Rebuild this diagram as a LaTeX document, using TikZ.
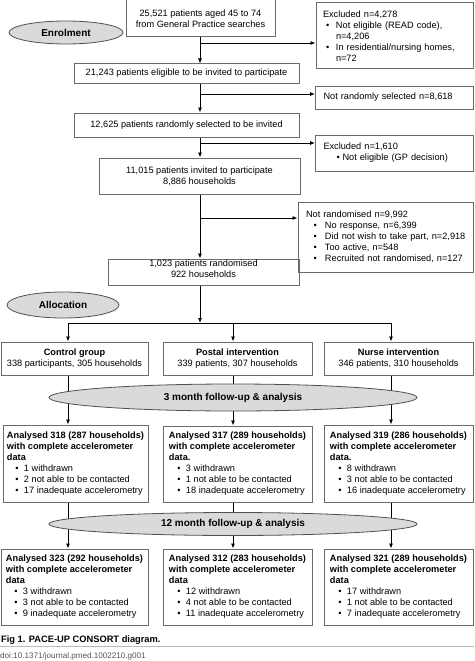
\documentclass[tikz,border=0pt]{standalone}
\usepackage{fontspec}
\setmainfont{Liberation Sans}
\usetikzlibrary{arrows.meta,shapes.geometric}
\definecolor{boxline}{HTML}{6B6B6B}
\definecolor{ellfill}{HTML}{DADADA}
\definecolor{ellline}{HTML}{505050}
\definecolor{capline}{HTML}{BBBBBB}
\definecolor{doigray}{HTML}{555555}
\newcommand{\bul}[2]{\hspace*{#1}\makebox[#2][l]{\textbullet}}
\begin{document}
\begin{tikzpicture}[x=1pt,y=-1pt,
  every node/.style={font=\fontsize{9.2}{11}\selectfont, text=black},
  box/.style={draw=boxline, line width=1pt, rectangle, inner sep=0pt, align=center},
  lbox/.style={box, align=left},
  oval/.style={ellipse, draw=ellline, fill=ellfill, line width=0.8pt, inner sep=0pt, font=\fontsize{10}{12}\selectfont\bfseries},
  arr/.style={draw=black, line width=0.8pt, -{Latex[length=5pt,width=4pt]}},
  ln/.style={draw=black, line width=0.8pt}
]
\useasboundingbox (0,0) rectangle (474,661);
\fill[white] (0,0) rectangle (474,661);
\clip (0,0) rectangle (474,661);

% enrolment column
\node[box, minimum width=149, minimum height=42] (T) at (200.5,16) {\rule{0pt}{13pt}25,521 patients aged 45 to 74\\from General Practice searches};
\node[oval, minimum width=114, minimum height=23] (E1) at (66,32.5) {Enrolment};
\node[lbox, text width=143, inner xsep=7, minimum height=66] (X1) at (394.5,36) {Excluded n=4,278\\\mbox{\bul{3pt}{10pt}Not eligible (READ code),}\\\hspace*{13pt}n=4,206\\\mbox{\bul{3pt}{10pt}In residential/nursing homes,}\\\hspace*{13pt}n=72};
\node[box, minimum width=225, minimum height=19] (B2) at (186.5,73.5) {21,243 patients eligible to be invited to participate};
\node[lbox, text width=142, inner xsep=8, minimum height=23] (X2) at (394.5,97.5) {\mbox{Not randomly selected n=8,618}};
\node[box, minimum width=225, minimum height=24] (B3) at (186.5,125) {12,625 patients randomly selected to be invited};
\node[lbox, text width=142, inner xsep=8, minimum height=36] (X3) at (394.5,153) {Excluded n=1,610\\\mbox{\bul{13pt}{6pt}Not eligible (GP decision)}};
\node[box, minimum width=201, minimum height=36] (B4) at (199.5,176) {11,015 patients invited to participate\\8,886 households};
\node[lbox, text width=159, inner xsep=8, minimum height=70] (X4) at (385.5,237) {\mbox{Not randomised n=9,992}\\\mbox{\bul{7.5pt}{11.5pt}No response, n=6,399}\\\mbox{\bul{7.5pt}{11.5pt}Did not wish to take part, n=2,918}\\\mbox{\bul{7.5pt}{11.5pt}Too active, n=548}\\\mbox{\bul{7.5pt}{11.5pt}Recruited not randomised, n=127}};
\node[box, minimum width=191, minimum height=26] (B5) at (203.5,272) {1,023 patients randomised\\922 households\rule[-6pt]{0pt}{0pt}};
\node[oval, minimum width=112, minimum height=26] (E2) at (63,305) {Allocation};

% groups
\node[box, minimum width=147, minimum height=33] (G1) at (74.5,358.5) {\textbf{Control group}\\338 participants, 305 households};
\node[box, minimum width=149, minimum height=33] (G2) at (237.5,358.5) {\textbf{Postal intervention}\\339 patients, 307 households};
\node[box, minimum width=149, minimum height=33] (G3) at (398.5,358.5) {\textbf{Nurse intervention}\\346 patients, 310 households};

% 3 month
\node[lbox, minimum width=145, minimum height=77] (A1) at (75.5,463.5) {\textbf{Analysed 318 (287 households)}\\\textbf{with complete accelerometer}\\\textbf{data}\\\bul{8.5pt}{8.5pt}1 withdrawn\\\bul{8.5pt}{8.5pt}2 not able to be contacted\\\bul{8.5pt}{8.5pt}17 inadequate accelerometry};
\node[lbox, minimum width=149, minimum height=76] (A2) at (237.5,464) {\textbf{Analysed 317 (289 households)}\\\textbf{with complete accelerometer}\\\textbf{data.}\\\bul{8.5pt}{8.5pt}3 withdrawn\\\bul{8.5pt}{8.5pt}1 not able to be contacted\\\bul{8.5pt}{8.5pt}18 inadequate accelerometry};
\node[lbox, minimum width=149, minimum height=77] (A3) at (398.5,463.5) {\textbf{Analysed 319 (286 households)}\\\textbf{with complete accelerometer}\\\textbf{data.}\\\bul{8.5pt}{8.5pt}8 withdrawn\\\bul{8.5pt}{8.5pt}3 not able to be contacted\\\bul{8.5pt}{8.5pt}16 inadequate accelerometry};

% 12 month
\node[lbox, minimum width=147, minimum height=76] (F1) at (74.5,587) {\textbf{Analysed 323 (292 households)}\\\textbf{with complete accelerometer}\\\textbf{data}\\\bul{8.5pt}{8.5pt}3 withdrawn\\\bul{8.5pt}{8.5pt}3 not able to be contacted\\\bul{8.5pt}{8.5pt}9 inadequate accelerometry};
\node[lbox, minimum width=149, minimum height=76] (F2) at (237.5,587) {\textbf{Analysed 312 (283 households)}\\\textbf{with complete accelerometer}\\\textbf{data}\\\bul{8.5pt}{8.5pt}12 withdrawn\\\bul{8.5pt}{8.5pt}4 not able to be contacted\\\bul{8.5pt}{8.5pt}11 inadequate accelerometry};
\node[lbox, minimum width=149, minimum height=76] (F3) at (398.5,587) {\textbf{Analysed 321 (289 households)}\\\textbf{with complete accelerometer}\\\textbf{data}\\\bul{8.5pt}{8.5pt}17 withdrawn\\\bul{8.5pt}{8.5pt}1 not able to be contacted\\\bul{8.5pt}{8.5pt}7 inadequate accelerometry};

% connector points
\coordinate (m) at (200,0);
\coordinate (b1) at (200,43);
\coordinate (b2) at (200,94);
\coordinate (b3) at (200,143);
\coordinate (b4) at (200,218);
\coordinate (hm) at (200,323);
\coordinate (h1) at (68,323);
\coordinate (h2) at (233,323);
\coordinate (h3) at (391,323);

\draw[arr] (T.south -| m) -- (B2.north -| m);
\draw[arr] (b1) -- (b1 -| X1.west);
\draw[arr] (B2.south -| m) -- (B3.north -| m);
\draw[arr] (b2) -- (b2 -| X2.west);
\draw[arr] (B3.south -| m) -- (B4.north -| m);
\draw[arr] (b3) -- (b3 -| X3.west);
\draw[arr] (B4.south -| m) -- (B5.north -| m);
\draw[arr] (b4) -- (b4 -| X4.west);
\draw[arr] (B5.south -| m) -- (hm);
\draw[ln] (h1) -- (h3);
\draw[arr] (h1) -- (h1 |- G1.north);
\draw[arr] (h2) -- (h2 |- G2.north);
\draw[arr] (h3) -- (h3 |- G3.north);
\draw[arr] (G1.south -| h1) -- (A1.north -| h1);
\draw[arr] (G2.south -| h2) -- (A2.north -| h2);
\draw[arr] (G3.south -| h3) -- (A3.north -| h3);
\draw[arr] (A1.south -| h1) -- (F1.north -| h1);
\draw[arr] (A2.south -| h2) -- (F2.north -| h2);
\draw[arr] (A3.south -| h3) -- (F3.north -| h3);

% follow-up ellipses over the lines
\node[oval, minimum width=368, minimum height=27] (E3) at (233,397.5) {3 month follow-up \& analysis};
\node[oval, minimum width=368, minimum height=23] (E4) at (233,524) {12 month follow-up \& analysis};

% caption
\node[anchor=west, inner sep=0pt, font=\fontsize{9.3}{11}\selectfont\bfseries] (cap) at (1,640) {Fig 1. PACE-UP CONSORT diagram.};
\draw[capline, line width=1.2pt] (0,646.5) -- (474,646.5);
\node[anchor=west, inner sep=0pt, font=\fontsize{8.1}{10}\selectfont, text=doigray] (doi) at (0,656.5) {doi:10.1371/journal.pmed.1002210.g001};
\end{tikzpicture}
\end{document}
